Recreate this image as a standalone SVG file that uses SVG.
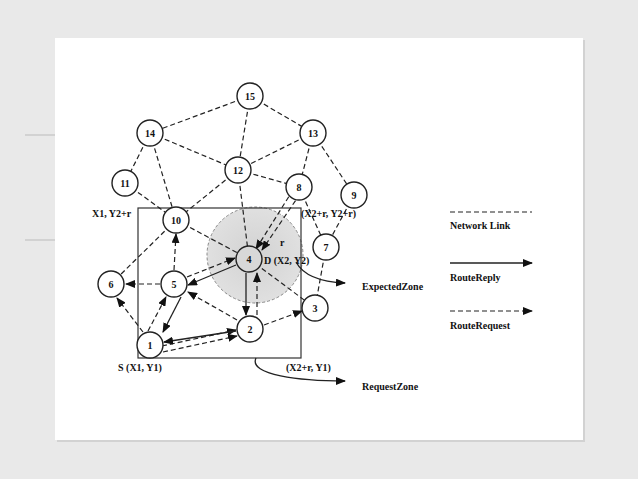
<svg xmlns="http://www.w3.org/2000/svg" width="638" height="479" viewBox="0 0 638 479">
<defs>
<marker id="ah" markerWidth="10" markerHeight="8" refX="9" refY="4" orient="auto" markerUnits="userSpaceOnUse"><path d="M0,0 L10,4 L0,8 z" fill="#111"/></marker>
<radialGradient id="sh"><stop offset="0" stop-color="#d2d2d2"/><stop offset="1" stop-color="#e0e0e0"/></radialGradient>
</defs>
<style>
.n{fill:#fff;stroke:#222;stroke-width:1.4}
.t{font-family:"Liberation Serif",serif;font-size:10px;font-weight:bold;fill:#111;text-anchor:middle}
.l{font-family:"Liberation Serif",serif;font-size:10px;font-weight:bold;fill:#111}
.d{stroke:#222;stroke-width:1.2;stroke-dasharray:5,3;fill:none}
.s{stroke:#222;stroke-width:1.3;fill:none}
</style>
<rect width="638" height="479" fill="#e9e9e9"/>
<rect x="57" y="40" width="528" height="402" fill="#bbb" opacity="0.5"/>
<rect x="55" y="38" width="528" height="402" fill="#fff"/>
<line x1="25" y1="135" x2="55" y2="135" stroke="#bbb"/>
<line x1="25" y1="240" x2="55" y2="240" stroke="#bbb"/>
<circle cx="255" cy="255" r="48" fill="url(#sh)" stroke="#888" stroke-dasharray="3,2"/>
<rect x="138" y="208" width="163" height="150" fill="none" stroke="#333" stroke-width="1.2"/>
<g id="connectors">
<line class="d" x1="250" y1="96" x2="150" y2="133"/>
<line class="d" x1="250" y1="96" x2="238" y2="170"/>
<line class="d" x1="250" y1="96" x2="313" y2="133"/>
<line class="d" x1="150" y1="133" x2="238" y2="170"/>
<line class="d" x1="313" y1="133" x2="238" y2="170"/>
<line class="d" x1="150" y1="133" x2="125" y2="183"/>
<line class="d" x1="150" y1="133" x2="176" y2="220"/>
<line class="d" x1="238" y1="170" x2="299" y2="187"/>
<line class="d" x1="313" y1="133" x2="299" y2="187"/>
<line class="d" x1="313" y1="133" x2="354" y2="195"/>
<line class="d" x1="238" y1="170" x2="176" y2="220"/>
<line class="d" x1="238" y1="170" x2="249" y2="259"/>
<line class="d" x1="125" y1="183" x2="176" y2="220"/>
<line class="d" x1="354" y1="195" x2="326" y2="247"/>
<line class="d" x1="299" y1="187" x2="326" y2="247"/>
<line class="d" x1="176" y1="220" x2="249" y2="259"/>
<line class="d" x1="176" y1="220" x2="111" y2="284"/>
<line class="d" x1="326" y1="247" x2="315" y2="308"/>
<line class="d" x1="249" y1="259" x2="315" y2="308"/>
<line class="d" x1="293" y1="190" x2="256" y2="249" marker-end="url(#ah)"/>
<line class="d" x1="300" y1="194" x2="262" y2="250" marker-end="url(#ah)"/>
<line class="d" x1="162" y1="346" x2="236" y2="330" marker-end="url(#ah)"/>
<line class="d" x1="163" y1="352" x2="237" y2="336" marker-end="url(#ah)"/>
<line class="d" x1="148" y1="331" x2="166" y2="297" marker-end="url(#ah)"/>
<line class="d" x1="143" y1="332" x2="117" y2="298" marker-end="url(#ah)"/>
<line class="d" x1="174" y1="270" x2="176" y2="234" marker-end="url(#ah)"/>
<line class="d" x1="160" y1="284" x2="126" y2="284" marker-end="url(#ah)"/>
<line class="d" x1="187" y1="277" x2="235" y2="258" marker-end="url(#ah)"/>
<line class="d" x1="237" y1="320" x2="188" y2="292" marker-end="url(#ah)"/>
<line class="d" x1="257" y1="315" x2="257" y2="273" marker-end="url(#ah)"/>
<line class="d" x1="264" y1="325" x2="302" y2="311" marker-end="url(#ah)"/>
<line class="s" x1="246" y1="273" x2="246" y2="315" marker-end="url(#ah)"/>
<line class="s" x1="236" y1="331" x2="164" y2="342" marker-end="url(#ah)"/>
<line class="s" x1="236" y1="265" x2="188" y2="285" marker-end="url(#ah)"/>
<line class="s" x1="181" y1="297" x2="163" y2="332" marker-end="url(#ah)"/>
<path class="s" d="M296,262 C303,275 320,282 345,283" marker-end="url(#ah)"/>
<path class="s" d="M256,358 C248,375 300,381 345,381" marker-end="url(#ah)"/>
<line class="d" x1="450" y1="212" x2="532" y2="212"/>
<line class="s" x1="450" y1="263" x2="532" y2="263" marker-end="url(#ah)"/>
<line class="d" x1="450" y1="311" x2="532" y2="311" marker-end="url(#ah)"/>
</g>
<g id="n15"><circle class="n" cx="250" cy="96" r="13"/><text class="t" x="250" y="100">15</text></g>
<g id="n14"><circle class="n" cx="150" cy="133" r="13"/><text class="t" x="150" y="137">14</text></g>
<g id="n13"><circle class="n" cx="313" cy="133" r="13"/><text class="t" x="313" y="137">13</text></g>
<g id="n12"><circle class="n" cx="238" cy="170" r="13"/><text class="t" x="238" y="174">12</text></g>
<g id="n11"><circle class="n" cx="125" cy="183" r="13"/><text class="t" x="125" y="187">11</text></g>
<g id="n8"><circle class="n" cx="299" cy="187" r="13"/><text class="t" x="299" y="191">8</text></g>
<g id="n9"><circle class="n" cx="354" cy="195" r="13"/><text class="t" x="354" y="199">9</text></g>
<g id="n10"><circle class="n" cx="176" cy="220" r="13"/><text class="t" x="176" y="224">10</text></g>
<g id="n7"><circle class="n" cx="326" cy="247" r="13"/><text class="t" x="326" y="251">7</text></g>
<g id="n4"><circle class="n" cx="249" cy="259" r="13" style="fill:#d8d8d8"/><text class="t" x="249" y="263">4</text></g>
<g id="n6"><circle class="n" cx="111" cy="284" r="13"/><text class="t" x="111" y="288">6</text></g>
<g id="n5"><circle class="n" cx="174" cy="284" r="13"/><text class="t" x="174" y="288">5</text></g>
<g id="n3"><circle class="n" cx="315" cy="308" r="13"/><text class="t" x="315" y="312">3</text></g>
<g id="n2"><circle class="n" cx="250" cy="329" r="13"/><text class="t" x="250" y="333">2</text></g>
<g id="n1"><circle class="n" cx="150" cy="345" r="13"/><text class="t" x="150" y="349">1</text></g>
<text class="l" x="92" y="217">X1, Y2+r</text>
<text class="l" x="301" y="217">(X2+r, Y2+r)</text>
<text class="l" x="264" y="264">D (X2, Y2)</text>
<text class="l" x="280" y="246">r</text>
<text class="l" x="118" y="371">S (X1, Y1)</text>
<text class="l" x="286" y="371">(X2+r, Y1)</text>
<text class="l" x="362" y="290">ExpectedZone</text>
<text class="l" x="362" y="390">RequestZone</text>
<text class="l" x="450" y="229">Network Link</text>
<text class="l" x="450" y="281">RouteReply</text>
<text class="l" x="450" y="329">RouteRequest</text>
</svg>
